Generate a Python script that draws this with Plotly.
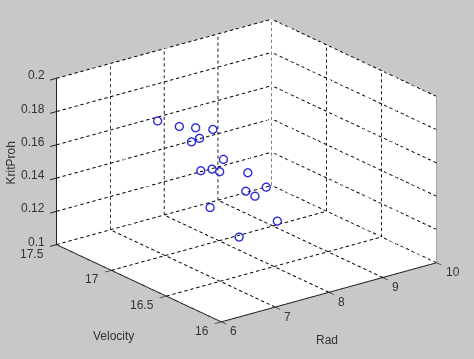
import plotly.graph_objects as go

rad = [6.65, 6.90, 7.05, 7.37, 6.97, 6.82, 7.26, 6.84, 7.05, 7.19, 7.56, 7.75, 7.37, 7.54, 6.86, 7.65, 6.94]
velocity = [16.9, 16.825, 16.75, 16.75, 16.675, 16.675, 16.6, 16.6, 16.6, 16.6, 16.525, 16.45, 16.45, 16.45, 16.525, 16.3, 16.3]
krit = [0.1872, 0.1840, 0.1842, 0.1804, 0.1809, 0.1801, 0.1680, 0.1649, 0.1640, 0.1612, 0.1596, 0.1516, 0.1525, 0.1480, 0.1449, 0.1367, 0.1334]

rad_ticks = [6, 7, 8, 9, 10]
vel_ticks = [16, 16.5, 17, 17.5]
krit_ticks = [0.1, 0.12, 0.14, 0.16, 0.18, 0.2]
krit_text = ["0.1", "0.12", "0.14", "0.16", "0.18", "0.2"]

R0, R1, V0, V1, K0, K1 = rad_ticks[0], rad_ticks[-1], vel_ticks[0], vel_ticks[-1], krit_ticks[0], krit_ticks[-1]

gx, gy, gz = [], [], []
def seg(a, b, n=40):
    # a dashed grid line, built from short solid pieces
    for i in range(n):
        f0 = i / n
        f1 = (i + 0.55) / n
        p0 = [a[j] + (b[j] - a[j]) * f0 for j in range(3)]
        p1 = [a[j] + (b[j] - a[j]) * f1 for j in range(3)]
        gx.extend([p0[0], p1[0], None]); gy.extend([p0[1], p1[1], None]); gz.extend([p0[2], p1[2], None])

for r in rad_ticks:
    seg((r, V0, K0), (r, V1, K0), 30)
    if r != R0:
        seg((r, V1, K0), (r, V1, K1), 28)
for v in vel_ticks:
    seg((R0, v, K0), (R1, v, K0), 36)
    if v != V0:
        seg((R1, v, K0), (R1, v, K1), 28)
for k in krit_ticks:
    seg((R0, V1, k), (R1, V1, k), 36)
    seg((R1, V0, k), (R1, V1, k), 30)

grid = go.Scatter3d(x=gx, y=gy, z=gz, mode="lines", hoverinfo="skip", showlegend=False,
                    connectgaps=False, line=dict(color="#000000", width=2))
edge = go.Scatter3d(x=[R1, R1, None], y=[V0, V0, None], z=[K0, K1, None], mode="lines", hoverinfo="skip",
                    showlegend=False, connectgaps=False, line=dict(color="#666666", width=1))
pts = go.Scatter3d(x=rad, y=velocity, z=krit, mode="markers", showlegend=False,
                   marker=dict(symbol="circle-open", size=5, color="#2a2ad8", line=dict(color="#2a2ad8", width=1)))

txt = "#333333"
F = dict(family="Liberation Sans", size=12, color=txt)
ann = []
for k, t in zip(krit_ticks, krit_text):
    ann.append(dict(x=R0, y=V1, z=k, text=t, showarrow=False, xanchor="right", xshift=-9, yshift=3, font=F))
for v in vel_ticks:
    ann.append(dict(x=R0, y=v, z=K0, text=str(v), showarrow=False, xanchor="right", xshift=-10, yshift=-9, font=F))
for r in rad_ticks:
    ann.append(dict(x=r, y=V0, z=K0, text=str(r), showarrow=False, xanchor="left", xshift=7, yshift=-9.5, font=F))
ann.append(dict(x=R0, y=16.75, z=K0, text="Velocity", showarrow=False, xshift=-25.5, yshift=-52.5, font=F))
ann.append(dict(x=8, y=V0, z=K0, text="Rad", showarrow=False, xshift=-2, yshift=-47.5, font=F))
ann.append(dict(x=R0, y=V1, z=0.15, text="KritProh", showarrow=False, textangle=-90, xshift=-45, yshift=-1.5, font=F))

fig = go.Figure([grid, edge, pts])
axis = dict(showgrid=False, zeroline=False, showline=True, linecolor="#222222", linewidth=2,
            showbackground=True, backgroundcolor="white", ticks="outside", ticklen=8, tickwidth=2,
            tickcolor="#222222", showticklabels=False, title=dict(text=""),
            showspikes=False, autorange=False, mirror=False)
fig.update_layout(
    width=474, height=359, margin=dict(l=0, r=0, t=0, b=0), paper_bgcolor="#c8c8c8",
    font=F, showlegend=False,
    scene=dict(
        domain=dict(x=[0.04, 1.0], y=[0.05, 1.0]),
        bgcolor="#c8c8c8",
        aspectmode="manual", aspectratio=dict(x=1.59, y=1.59, z=1.045),
        annotations=ann,
        camera=dict(projection=dict(type="orthographic"),
                    eye=dict(x=-0.98, y=-1.28, z=0.62), up=dict(x=0, y=0, z=1), center=dict(x=0, y=0, z=0)),
        xaxis=dict(axis, range=[R0, R1], tickvals=rad_ticks),
        yaxis=dict(axis, range=[V0, V1], tickvals=vel_ticks),
        zaxis=dict(axis, range=[K0, K1], tickvals=krit_ticks),
    ),
)
fig.write_html("out.html", post_script="document.body.style.margin='0';", config=dict(displayModeBar=False))
